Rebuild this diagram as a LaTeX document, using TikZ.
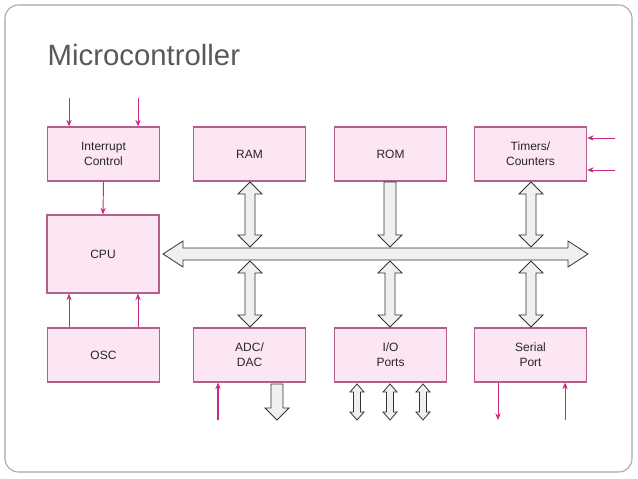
\documentclass[tikz,border=0pt]{standalone}
\usepackage{fontspec}
\setmainfont{Liberation Sans}
\usetikzlibrary{arrows.meta}
\begin{document}
\begin{tikzpicture}[x=0.75pt,y=-0.75pt,
  blk/.style={draw=magenta!60!black!80,line width=0.8pt,fill=magenta!10,inner sep=0pt,align=center,font=\small,text=black!85},
  sig/.style={draw=magenta!80!black,line width=0.7pt,-{Stealth[length=5pt,width=4pt]}},
  fat/.style={draw=black!80,line width=0.6pt,fill=black!6}]
\useasboundingbox (0,0) rectangle (638,478);
\draw[black!35,line width=0.8pt,rounded corners=10pt] (5,5) rectangle (632,472);
\node[anchor=west,font=\fontsize{22}{24}\selectfont,text=black!65] (title) at (43,55) {Microcontroller};
% blocks: name, x1, y1, text
\foreach \n/\xa/\ya/\t in {intr/47/127/{Interrupt\\Control},ram/193/127/RAM,rom/334/127/ROM,tim/474/127/{Timers/\\Counters},
  osc/47/328/OSC,adc/193/328/{ADC/\\DAC},io/334/328/{I/O\\Ports},ser/474/328/{Serial\\Port}}
  \node[blk,minimum width=84pt,minimum height=40.5pt] (\n) at (\xa+56.5,\ya+27) {\t};
\node[blk,minimum width=84pt,minimum height=58.5pt] (cpu) at (103,254) {CPU};
% bus
\draw[fat] (163,254) -- (183,241) -- (183,248) -- (568,248) -- (568,241) -- (588,254) -- (568,267) -- (568,260) -- (183,260) -- (183,267) -- cycle;
% vertical fat arrows: x, ytop, ybottom, shaft, head, headlen
\newcommand\vdbl[6]{\draw[fat] (#1,#2) -- (#1+#5,#2+#6) -- (#1+#4,#2+#6) -- (#1+#4,#3-#6) -- (#1+#5,#3-#6) -- (#1,#3) -- (#1-#5,#3-#6) -- (#1-#4,#3-#6) -- (#1-#4,#2+#6) -- (#1-#5,#2+#6) -- cycle;}
\newcommand\vdown[6]{\draw[fat] (#1-#4,#2) -- (#1+#4,#2) -- (#1+#4,#3-#6) -- (#1+#5,#3-#6) -- (#1,#3) -- (#1-#5,#3-#6) -- (#1-#4,#3-#6) -- cycle;}
\vdbl{250}{182}{247}{5}{12}{12}
\vdown{390}{182}{247}{6}{12}{12}
\vdbl{531}{182}{247}{5}{12}{12}
\vdbl{250}{261}{327}{5}{12}{12}
\vdbl{390}{261}{327}{5}{12}{12}
\vdbl{531}{261}{327}{5}{12}{12}
\vdown{277}{384}{420}{6}{12}{12}
\vdbl{357}{384}{420}{3.5}{7}{8}
\vdbl{390}{384}{420}{3.5}{7}{8}
\vdbl{423}{384}{420}{3.5}{7}{8}
% signal lines
\coordinate (i1) at (69,98); \coordinate (i2) at (138,98);
\draw[sig] (i1) -- (i1|-intr.north);
\draw[sig] (i2) -- (i2|-intr.north);
\draw[sig] (intr.south) -- (cpu.north);
\draw[sig] (osc.north-|i1) -- (cpu.south-|i1);
\draw[sig] (osc.north-|i2) -- (cpu.south-|i2);
\coordinate (t1) at (615,138); \coordinate (t2) at (615,170);
\draw[sig] (t1) -- (t1-|tim.east);
\draw[sig] (t2) -- (t2-|tim.east);
\coordinate (a1) at (218,420);
\draw[sig,line width=1.3pt] (a1) -- (a1|-adc.south);
\coordinate (s1) at (498,420); \coordinate (s2) at (565,420);
\draw[sig] (s1|-ser.south) -- (s1);
\draw[sig] (s2) -- (s2|-ser.south);
\end{tikzpicture}
\end{document}
